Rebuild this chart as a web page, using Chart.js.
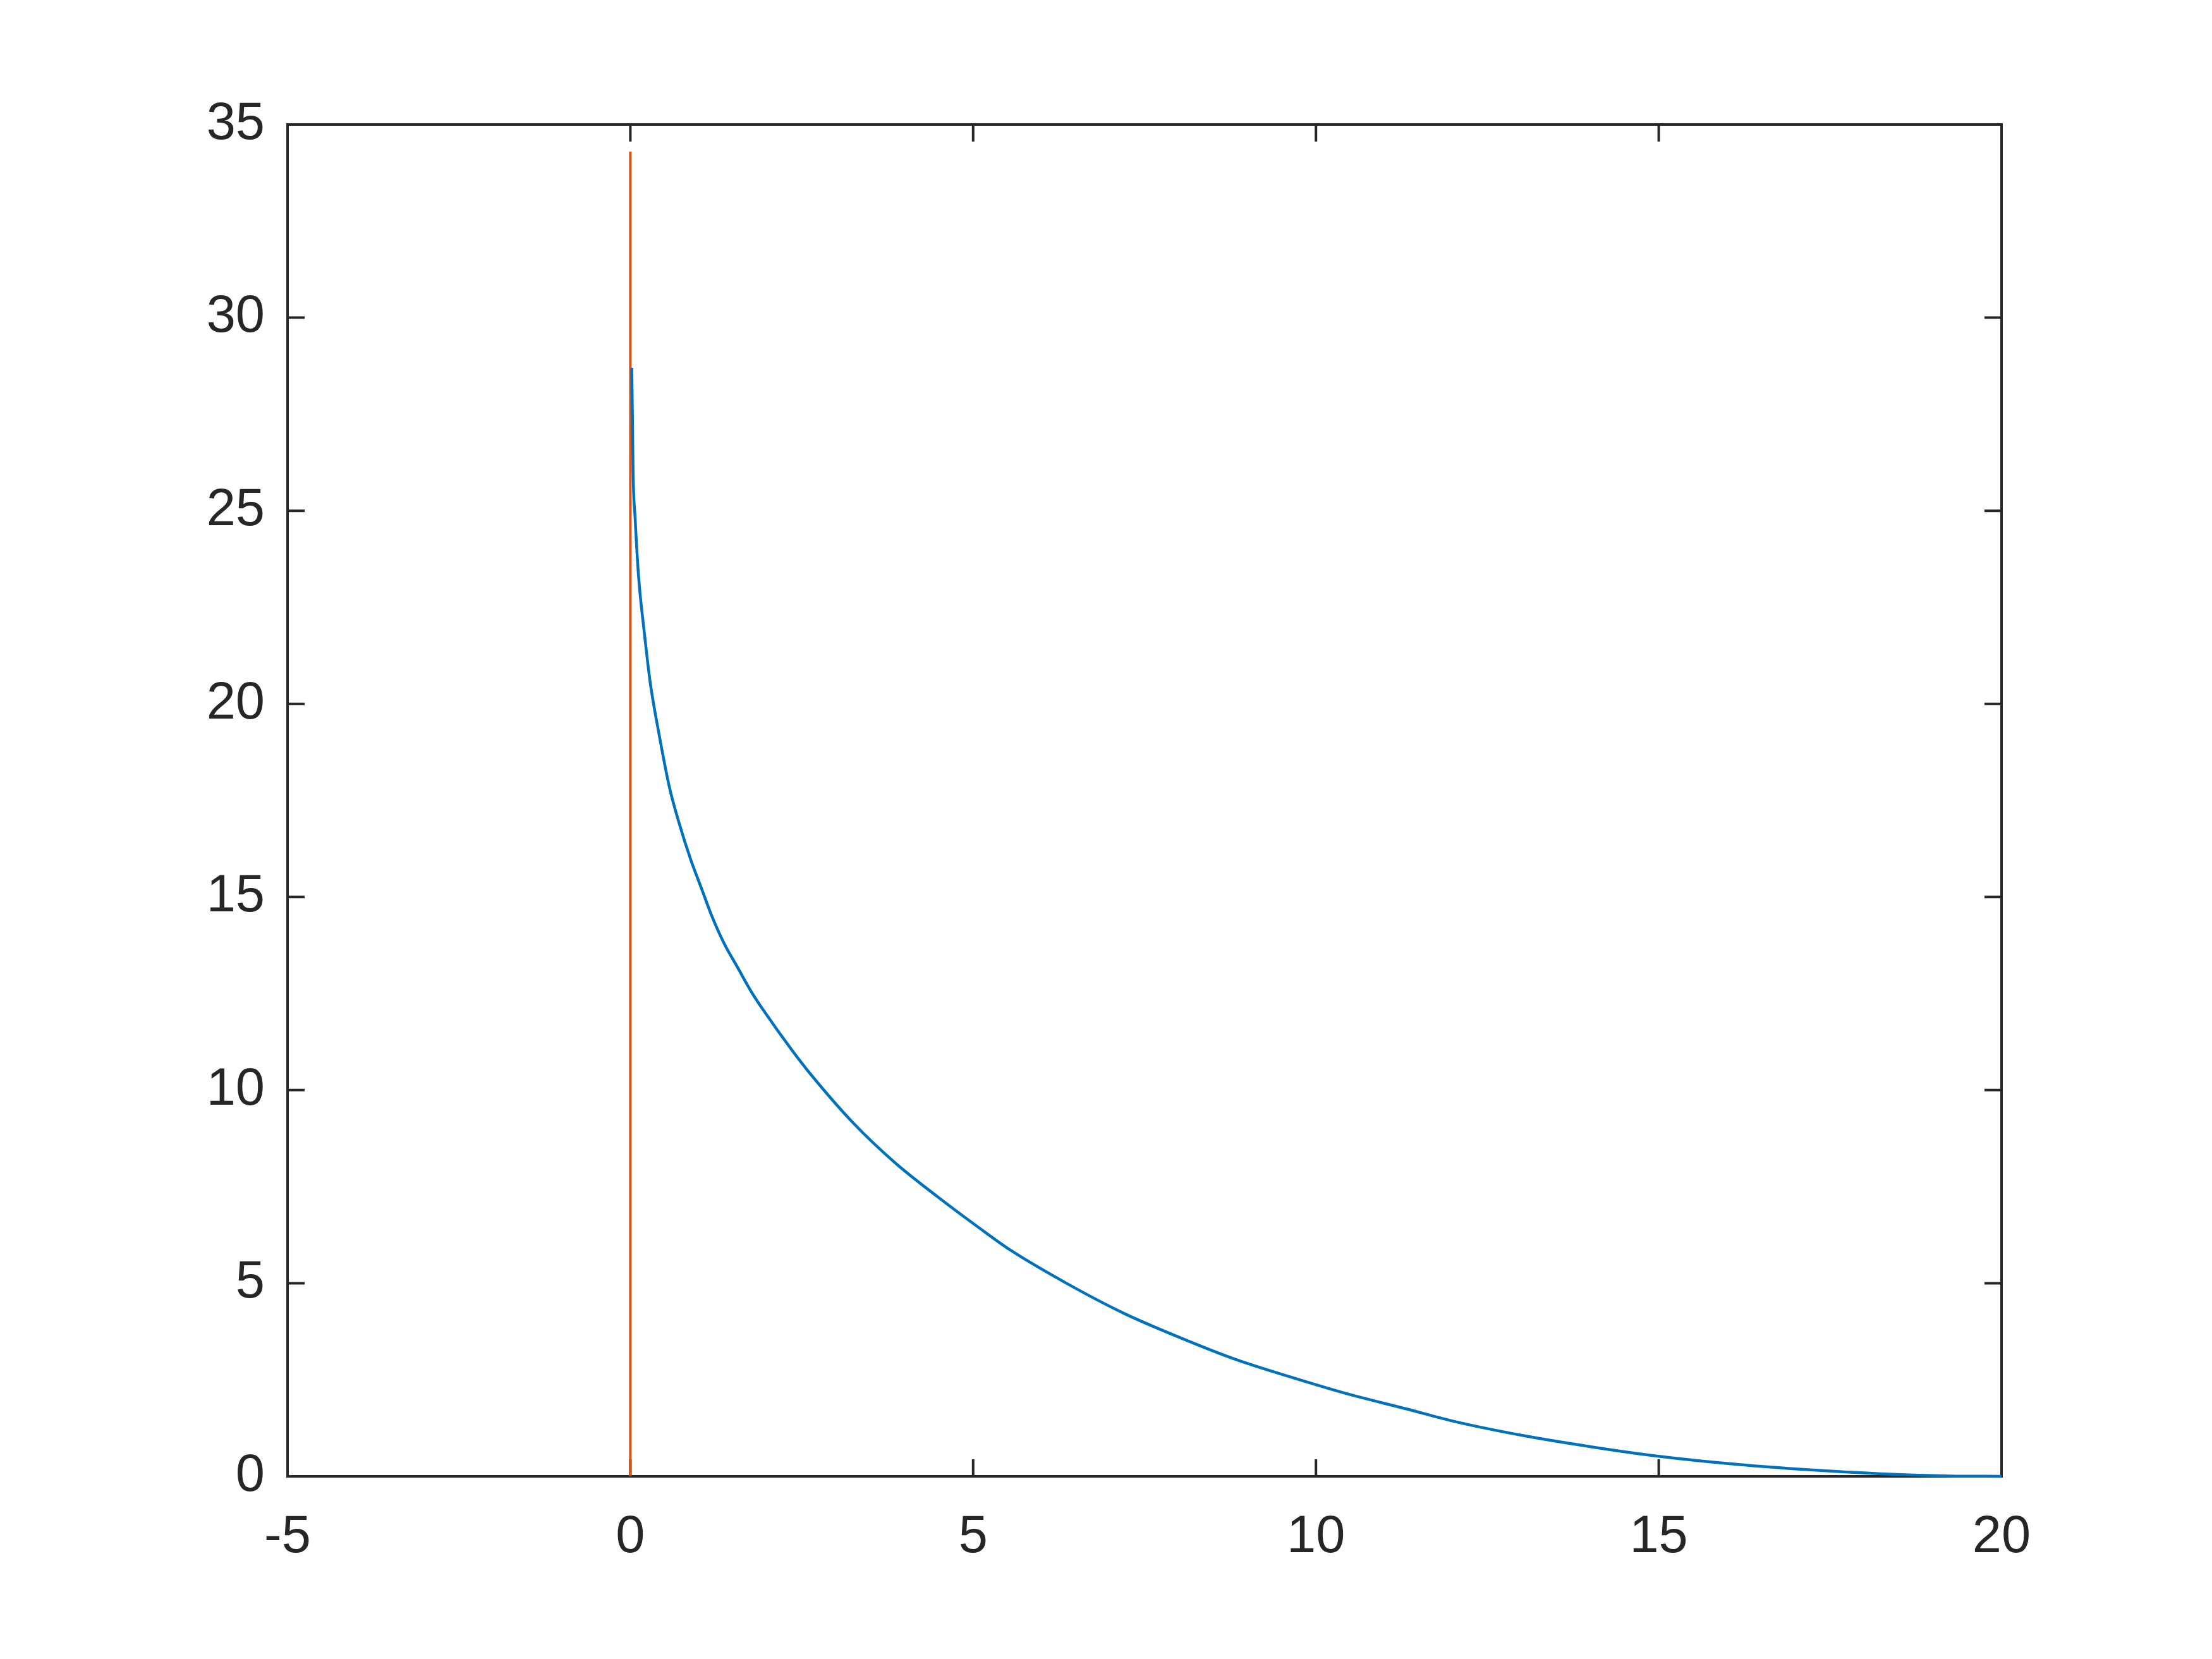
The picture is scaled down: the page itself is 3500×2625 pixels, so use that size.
<!DOCTYPE html>
<html>
<head>
<meta charset="utf-8">
<script src="https://cdn.jsdelivr.net/npm/chart.js@4.4.1/dist/chart.umd.min.js"></script>
<style>
  html, body { margin: 0; padding: 0; background: #fff; }
  canvas { display: block; }
</style>
</head>
<body>
<canvas id="myChart" width="3500" height="2625" style="width:3500px;height:2625px"></canvas>
<script>
// values
const curveX = [0.02, 0.03, 0.04, 0.07, 0.12, 0.2, 0.29, 0.42, 0.57, 0.705, 0.88, 1.04, 1.19, 1.37, 1.56, 1.77, 1.94, 2.35, 2.63, 3.25, 3.86, 4.48, 5.09, 5.55, 6.38, 7.2, 8.02, 8.84, 9.67, 10.49, 11.31, 12.0, 13.04, 14.07, 15, 16.14, 17.18, 18.2, 19.25, 20]
const curveY = [28.7, 27.5, 26.0, 24.8, 23.3, 21.9, 20.55, 19.2, 17.84, 16.95, 15.97, 15.21, 14.5, 13.79, 13.19, 12.53, 12.07, 11.05, 10.41, 9.15, 8.12, 7.24, 6.43, 5.85, 4.98, 4.22, 3.59, 3.02, 2.55, 2.12, 1.75, 1.43, 1.05, 0.75, 0.52, 0.31, 0.17, 0.07, 0.01, 0]
const spikeX = [0, 0]
const spikeY = [0, 34.3]
const xTicks = [-5, 0, 5, 10, 15, 20]
const yTicks = [0, 5, 10, 15, 20, 25, 30, 35]

const axisColor = '#262626'
const fontFam = '"Liberation Sans", Arial, Helvetica, sans-serif'

const toPts = (xs, ys) => xs.map((x, i) => ({ x: x, y: ys[i] }))

// MATLAB-style box with inward ticks on all four sides
const boxPlugin = {
    id: 'box',
    beforeDatasetsDraw(chart) {
        const ctx = chart.ctx
        const a = chart.chartArea
        const xs = chart.scales.x, ys = chart.scales.y
        const tl = 27
        ctx.save()
        ctx.strokeStyle = axisColor
        ctx.lineWidth = 4
        ctx.lineCap = 'square'
        ctx.strokeRect(a.left, a.top, a.right - a.left, a.bottom - a.top)
        ctx.lineCap = 'butt'
        ctx.beginPath()
        xTicks.forEach(v => {
            const p = xs.getPixelForValue(v)
            ctx.moveTo(p, a.bottom); ctx.lineTo(p, a.bottom - tl)
            ctx.moveTo(p, a.top); ctx.lineTo(p, a.top + tl)
        })
        yTicks.forEach(v => {
            const p = ys.getPixelForValue(v)
            ctx.moveTo(a.left, p); ctx.lineTo(a.left + tl, p)
            ctx.moveTo(a.right, p); ctx.lineTo(a.right - tl, p)
        })
        ctx.stroke()
        ctx.restore()
    }
}

document.addEventListener("DOMContentLoaded", function () {
    var ctx = document.getElementById('myChart').getContext('2d');
    var myChart = new Chart(ctx, {
        type: 'scatter',
        data: {
            datasets: [{
                data: toPts(curveX, curveY),
                showLine: true,
                borderColor: '#0072BD',
                borderWidth: 4.5,
                pointRadius: 0,
                cubicInterpolationMode: 'monotone',
                clip: false
            }, {
                data: toPts(spikeX, spikeY),
                showLine: true,
                borderColor: '#D95319',
                borderWidth: 4,
                pointRadius: 0,
                clip: false
            }]
        },
        options: {
            responsive: false,
            animation: false,
            devicePixelRatio: 1,
            layout: { padding: { left: 0, top: 197, right: 333, bottom: 0 } },
            scales: {
                x: {
                    type: 'linear',
                    min: -5,
                    max: 20,
                    afterBuildTicks: s => { s.ticks = xTicks.map(v => ({ value: v })) },
                    afterFit: s => { s.height = 289 },
                    ticks: {
                        padding: 47,
                        maxRotation: 0,
                        color: axisColor,
                        font: { family: fontFam, size: 83 }
                    },
                    grid: { display: false, drawTicks: false },
                    border: { display: false }
                },
                y: {
                    type: 'linear',
                    min: 0,
                    max: 35,
                    afterBuildTicks: s => { s.ticks = yTicks.map(v => ({ value: v })) },
                    afterFit: s => { s.width = 455 },
                    ticks: {
                        padding: 36,
                        color: axisColor,
                        font: { family: fontFam, size: 83 }
                    },
                    grid: { display: false, drawTicks: false },
                    border: { display: false }
                }
            },
            plugins: {
                legend: { display: false },
                tooltip: { enabled: false }
            }
        },
        plugins: [boxPlugin]
    });
});
</script>
</body>
</html>
